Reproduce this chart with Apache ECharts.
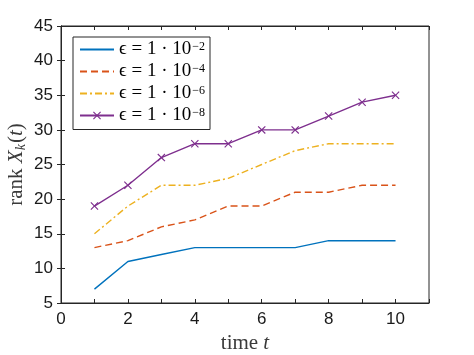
<!DOCTYPE html>
<html><head><meta charset="utf-8">
<script src="https://cdn.jsdelivr.net/npm/echarts@6/dist/echarts.min.js"></script>
<style>html,body{margin:0;padding:0;background:#fff}#c{width:474px;height:355px}</style>
</head><body><div id="c"></div>
<script>
const times = [1,2,3,4,5,6,7,8,9,10];
const exponents = ['−2','−4','−6','−8'];
const eps2 = [7,11,12,13,13,13,13,14,14,14];
const eps4 = [13,14,16,17,19,19,21,21,22,22];
const eps6 = [15,19,22,22,23,25,27,28,28,28];
const eps8 = [19,22,26,28,28,30,30,32,34,35];
const xTicks = [0,2,4,6,8,10];
const yTicks = [5,10,15,20,25,30,35,40,45];

const names = exponents.map(e => 'eps' + e);
const colors = ['#0072BD','#D95319','#EDB120','#7E2F8E'];
const styles = ['solid',[7,4],[7,3,2,3],'solid'];
const allData = [eps2, eps4, eps6, eps8];
const cross = 'path://M0,1 L1,0 L5,4 L9,0 L10,1 L6,5 L10,9 L9,10 L5,6 L1,10 L0,9 L4,5 Z';

const series = allData.map((d, i) => ({
  name: names[i],
  type: 'line',
  xAxisIndex: 0, yAxisIndex: 0,
  data: times.map((t, j) => [t, d[j]]),
  symbol: i === 3 ? cross : 'none',
  symbolSize: 8,
  showSymbol: i === 3,
  color: colors[i],
  lineStyle: { color: colors[i], width: 1.4, type: styles[i] },
  itemStyle: { color: colors[i] },
  animation: false
}));

const axisCol = '#262626';
const serif = 'Liberation Serif, DejaVu Serif, serif';
const chart = echarts.init(document.getElementById('c'), null, {renderer: 'canvas'});
chart.setOption({
  animation: false,
  grid: { left: 61, right: 45, top: 26, bottom: 52, show: true, borderColor: axisCol, borderWidth: 1,
    containLabel: false, outerBoundsMode: 'none' },
  legend: {
    left: 73, top: 37, orient: 'vertical',
    backgroundColor: '#fff',
    borderColor: axisCol, borderWidth: 1, borderRadius: 0,
    padding: [3, 5, 3, 6],
    itemWidth: 34, itemHeight: 10, itemGap: 1.5,
    data: names.map((n, i) => i === 3 ? { name: n } : { name: n, itemStyle: { color: 'rgba(0,0,0,0)', borderWidth: 0 } }),
    formatter: n => '{a|ϵ = 1 · 10}{s|' + exponents[names.indexOf(n)] + '}',
    textStyle: {
      rich: {
        a: { fontFamily: serif, fontSize: 19, lineHeight: 18, color: '#000' },
        s: { fontFamily: serif, fontSize: 12, lineHeight: 10, color: '#000', verticalAlign: 'top', padding: [0,0,8,1] }
      }
    }
  },
  xAxis: [{
    type: 'value', min: 0, max: 11, interval: 1,
    axisLine: { show: true, lineStyle: { color: axisCol } },
    axisTick: { show: true, inside: true, length: 4, lineStyle: { color: axisCol } },
    axisLabel: { color: '#1a1a1a', fontSize: 17, fontFamily: 'Liberation Sans, Arial, sans-serif', margin: 8,
      formatter: v => xTicks.indexOf(v) >= 0 ? String(v) : '' },
    splitLine: { show: false },
    name: '{r|time }{i|t}',
    nameLocation: 'middle', nameGap: 30,
    nameTextStyle: { fontSize: 21, fontFamily: serif, color: '#3a3a3a', rich: {
      r: { fontFamily: serif, fontSize: 21, color: '#3a3a3a' },
      i: { fontFamily: serif, fontStyle: 'italic', fontSize: 21, color: '#3a3a3a' }
    } }
  }, {
    type: 'value', min: 0, max: 11, interval: 1, position: 'top',
    axisLine: { show: true, lineStyle: { color: axisCol } },
    axisTick: { show: true, inside: true, length: 4, lineStyle: { color: axisCol } },
    axisLabel: { show: false }, splitLine: { show: false }
  }],
  yAxis: [{
    type: 'value', min: 5, max: 45, interval: 5,
    axisLine: { show: true, lineStyle: { color: axisCol } },
    axisTick: { show: true, inside: true, length: 4, lineStyle: { color: axisCol } },
    axisLabel: { color: '#1a1a1a', fontSize: 17, fontFamily: 'Liberation Sans, Arial, sans-serif', margin: 8 },
    splitLine: { show: false },
    name: '{r|rank }{i|X}{sub|k}{r|(}{i|t}{r|)}',
    nameLocation: 'middle', nameGap: 33, nameRotate: 90, nameMoveOverlap: false,
    nameTextStyle: { fontSize: 21, fontFamily: serif, color: '#3a3a3a', rich: {
      r: { fontFamily: serif, fontSize: 21, color: '#3a3a3a' },
      i: { fontFamily: serif, fontStyle: 'italic', fontSize: 21, color: '#3a3a3a' },
      sub: { fontFamily: serif, fontStyle: 'italic', fontSize: 14, color: '#3a3a3a', verticalAlign: 'bottom', padding: [10,1,0,0] }
    } }
  }, {
    type: 'value', min: 5, max: 45, interval: 5, position: 'right',
    axisLine: { show: true, lineStyle: { color: axisCol } },
    axisTick: { show: true, inside: true, length: 4, lineStyle: { color: axisCol } },
    axisLabel: { show: false }, splitLine: { show: false }
  }],
  series: series
});
</script></body></html>
